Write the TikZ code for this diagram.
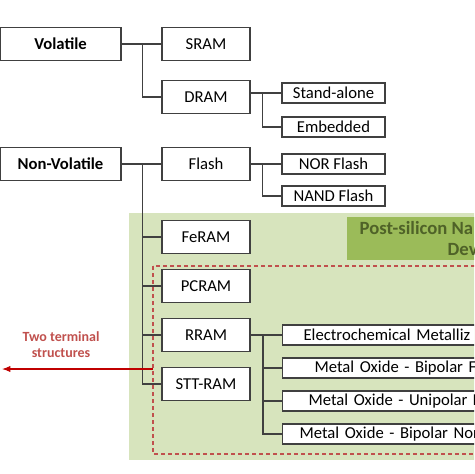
\documentclass[tikz,border=0pt]{standalone}
\usepackage{fontspec}
\setmainfont{Carlito}
\usetikzlibrary{arrows.meta}
\definecolor{linegray}{HTML}{404040}
\definecolor{bggreen}{HTML}{D7E4BD}
\definecolor{hdrgreen}{HTML}{9BBB59}
\definecolor{hdrtext}{HTML}{4F6228}
\definecolor{ttred}{HTML}{C0504D}
\definecolor{arrred}{HTML}{C00000}

\begin{document}
\begin{tikzpicture}[x=0.75pt, y=-0.75pt, every node/.style={font=\fontsize{12.5}{14}\selectfont}, >={Latex[length=2.2mm]},
	classbox/.style={draw=linegray, line width=0.9pt, fill=white, minimum width=90.75pt, minimum height=24.75pt, font=\fontsize{12.5}{14}\selectfont\bfseries},
	membox/.style={draw=linegray, line width=0.9pt, fill=white, minimum width=66pt, minimum height=24.75pt},
	kindbox/.style={draw=linegray, line width=0.9pt, fill=white, minimum width=77.25pt, minimum height=15pt, inner ysep=0.5pt},
	subbox/.style={draw=linegray, line width=0.9pt, fill=white, anchor=west, minimum height=15pt, text width=220pt, align=left, inner ysep=0.5pt},
	link/.style={draw=linegray, line width=0.9pt}]
	\useasboundingbox (0,0) rectangle (474,474);
	\clip (0,0) rectangle (474,474);
	% post-silicon region
	\fill[bggreen] (129,213) rectangle (480,460);
	\fill[hdrgreen] (347,217) rectangle (480,260);
	\node[anchor=west, text=hdrtext, font=\fontsize{14}{16}\selectfont\bfseries] (hdrtop) at (355,228) {Post-silicon Na};
	\node[anchor=west, text=hdrtext, font=\fontsize{14}{16}\selectfont\bfseries] (hdrbot) at (443,250) {Dev};
	% classes
	\node[classbox] (volatile) at (60.5,44) {Volatile};
	\node[classbox] (nonvol) at (60.5,164) {Non-Volatile};
	% memories
	\node[membox] (sram) at (206,44) {SRAM};
	\node[membox] (dram) at (206,97) {DRAM};
	\node[membox] (flash) at (206,164) {Flash};
	\node[membox] (feram) at (206,237) {FeRAM};
	\node[membox] (pcram) at (206,286) {PCRAM};
	\node[membox] (rram) at (206,335) {RRAM};
	\node[membox] (sttram) at (206,384) {STT-RAM};
	% sub types
	\node[kindbox] (standalone) at (333.5,93) {Stand-alone};
	\node[kindbox] (embedded) at (333.5,127) {Embedded};
	\node[kindbox] (norflash) at (333.5,164) {NOR Flash};
	\node[kindbox] (nandflash) at (333.5,196) {NAND Flash};
	\node[subbox, inner xsep=15.75pt] (ecm) at (282,335) {Electrochemical Metalliz};
	\node[subbox, inner xsep=24pt] (bfil) at (282,368) {Metal Oxide - Bipolar Fi};
	\node[subbox, inner xsep=19.5pt] (ufil) at (282,401) {Metal Oxide - Unipolar F};
	\node[subbox, inner xsep=12.75pt] (bnon) at (282,434) {Metal Oxide - Bipolar Nor};
	% tree links
	\draw[link] (volatile.east) -- (sram.west) ([xshift=15.75pt]volatile.east) |- (dram.west);
	\draw[link] (nonvol.east) -- (flash.west);
	\foreach \m in {feram,pcram,rram,sttram}
		\draw[link] ([xshift=15.75pt]nonvol.east) |- (\m.west);
	\draw[link] (standalone.west -| dram.east) -- (standalone.west) ([xshift=-14.25pt]standalone.west) |- (embedded.west);
	\draw[link] (flash.east) -- (norflash.west) ([xshift=-14.25pt]norflash.west) |- (nandflash.west);
	\draw[link] (rram.east) -- (ecm.west);
	\foreach \s in {bfil,ufil,bnon}
		\draw[link] ([xshift=-14.25pt]ecm.west) |- (\s.west);
	% two terminal structures
	\draw[ttred, line width=2pt, dash pattern=on 3pt off 2.25pt] (153,266) rectangle (490,454);
	\coordinate (ttleft) at (153,369);
	\coordinate (ttend) at (2,369);
	\draw[->, arrred, line width=0.8pt] (ttleft) -- (ttend);
	\node[text=ttred, align=center, font=\fontsize{10.5}{12}\selectfont\bfseries] (ttlabel) at (61,345) {Two terminal\\structures};
\end{tikzpicture}
\end{document}
